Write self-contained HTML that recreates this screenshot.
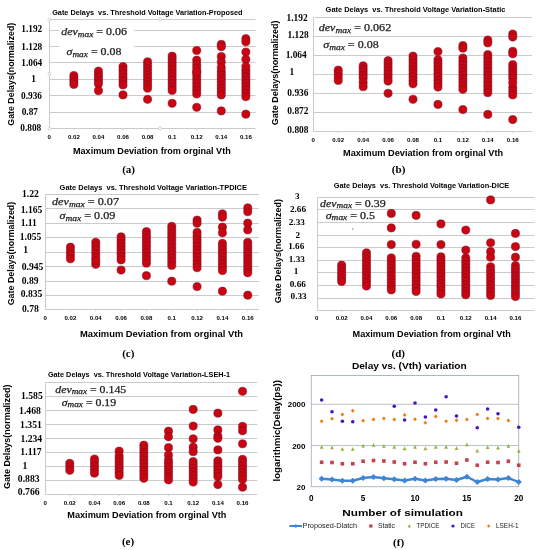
<!DOCTYPE html>
<html><head><meta charset="utf-8"><title>Gate delay variation figures</title>
<style>
html,body{margin:0;padding:0;background:#fff;}
body{width:540px;height:550px;overflow:hidden;}
svg{display:block;}
</style></head><body>
<svg width="540" height="550" viewBox="0 0 540 550">
<rect width="540" height="550" fill="#fff"/>
<line x1="49.50" y1="30.50" x2="255.60" y2="30.50" stroke="#cbcbcb" stroke-width="1"/>
<line x1="49.50" y1="46.50" x2="255.60" y2="46.50" stroke="#cbcbcb" stroke-width="1"/>
<line x1="49.50" y1="62.50" x2="255.60" y2="62.50" stroke="#cbcbcb" stroke-width="1"/>
<line x1="49.50" y1="79.50" x2="255.60" y2="79.50" stroke="#cbcbcb" stroke-width="1"/>
<line x1="49.50" y1="95.50" x2="255.60" y2="95.50" stroke="#cbcbcb" stroke-width="1"/>
<line x1="49.50" y1="112.50" x2="255.60" y2="112.50" stroke="#cbcbcb" stroke-width="1"/>
<line x1="49.50" y1="128.50" x2="255.60" y2="128.50" stroke="#cbcbcb" stroke-width="1"/>
<line x1="49.50" y1="19.50" x2="255.60" y2="19.50" stroke="#cbcbcb" stroke-width="1"/>
<line x1="49.50" y1="19.50" x2="49.50" y2="128.50" stroke="#cbcbcb" stroke-width="1"/>
<text x="31.80" y="31.57" font-family='"Liberation Serif", serif' font-size="9.3" font-weight="bold" text-anchor="middle" fill="#000">1.192</text>
<text x="31.80" y="49.77" font-family='"Liberation Serif", serif' font-size="9.3" font-weight="bold" text-anchor="middle" fill="#000">1.128</text>
<text x="31.80" y="65.87" font-family='"Liberation Serif", serif' font-size="9.3" font-weight="bold" text-anchor="middle" fill="#000">1.064</text>
<text x="33.50" y="82.27" font-family='"Liberation Serif", serif' font-size="9.3" font-weight="bold" text-anchor="middle" fill="#000">1</text>
<text x="31.50" y="98.57" font-family='"Liberation Serif", serif' font-size="9.3" font-weight="bold" text-anchor="middle" fill="#000">0.936</text>
<text x="29.80" y="114.57" font-family='"Liberation Serif", serif' font-size="9.3" font-weight="bold" text-anchor="middle" fill="#000">0.87</text>
<text x="30.80" y="131.37" font-family='"Liberation Serif", serif' font-size="9.3" font-weight="bold" text-anchor="middle" fill="#000">0.808</text>
<text x="49.30" y="138.50" font-family='"Liberation Sans", sans-serif' font-size="6.1" font-weight="bold" text-anchor="middle" fill="#000">0</text>
<text x="73.87" y="138.50" font-family='"Liberation Sans", sans-serif' font-size="6.1" font-weight="bold" text-anchor="middle" fill="#000">0.02</text>
<line x1="73.87" y1="128.50" x2="73.87" y2="130.30" stroke="#cbcbcb" stroke-width="0.8"/>
<text x="98.44" y="138.50" font-family='"Liberation Sans", sans-serif' font-size="6.1" font-weight="bold" text-anchor="middle" fill="#000">0.04</text>
<line x1="98.44" y1="128.50" x2="98.44" y2="130.30" stroke="#cbcbcb" stroke-width="0.8"/>
<text x="123.01" y="138.50" font-family='"Liberation Sans", sans-serif' font-size="6.1" font-weight="bold" text-anchor="middle" fill="#000">0.06</text>
<line x1="123.01" y1="128.50" x2="123.01" y2="130.30" stroke="#cbcbcb" stroke-width="0.8"/>
<text x="147.58" y="138.50" font-family='"Liberation Sans", sans-serif' font-size="6.1" font-weight="bold" text-anchor="middle" fill="#000">0.08</text>
<line x1="147.58" y1="128.50" x2="147.58" y2="130.30" stroke="#cbcbcb" stroke-width="0.8"/>
<text x="172.15" y="138.50" font-family='"Liberation Sans", sans-serif' font-size="6.1" font-weight="bold" text-anchor="middle" fill="#000">0.1</text>
<line x1="172.15" y1="128.50" x2="172.15" y2="130.30" stroke="#cbcbcb" stroke-width="0.8"/>
<text x="196.72" y="138.50" font-family='"Liberation Sans", sans-serif' font-size="6.1" font-weight="bold" text-anchor="middle" fill="#000">0.12</text>
<line x1="196.72" y1="128.50" x2="196.72" y2="130.30" stroke="#cbcbcb" stroke-width="0.8"/>
<text x="221.29" y="138.50" font-family='"Liberation Sans", sans-serif' font-size="6.1" font-weight="bold" text-anchor="middle" fill="#000">0.14</text>
<line x1="221.29" y1="128.50" x2="221.29" y2="130.30" stroke="#cbcbcb" stroke-width="0.8"/>
<text x="245.86" y="138.50" font-family='"Liberation Sans", sans-serif' font-size="6.1" font-weight="bold" text-anchor="middle" fill="#000">0.16</text>
<line x1="245.86" y1="128.50" x2="245.86" y2="130.30" stroke="#cbcbcb" stroke-width="0.8"/>
<circle cx="49.5" cy="19.5" r="1.5" fill="#fff" stroke="#b5b5b5" stroke-width="0.6"/>
<circle cx="49.5" cy="74" r="1.5" fill="#fff" stroke="#b5b5b5" stroke-width="0.6"/>
<circle cx="49.5" cy="128.5" r="1.5" fill="#fff" stroke="#b5b5b5" stroke-width="0.6"/>
<circle cx="160" cy="19.5" r="1.5" fill="#fff" stroke="#b5b5b5" stroke-width="0.6"/>
<circle cx="160" cy="128.5" r="1.5" fill="#fff" stroke="#b5b5b5" stroke-width="0.6"/>
<text x="52.20" y="15.20" font-family='"Liberation Sans", sans-serif' font-size="7.5" font-weight="bold" text-anchor="start" fill="#000" textLength="190.40" lengthAdjust="spacingAndGlyphs" xml:space="preserve" style="white-space:pre">Gate Delays  vs. Threshold Voltage Variation-Proposed</text>
<text x="73.00" y="154.30" font-family='"Liberation Sans", sans-serif' font-size="9.4" font-weight="bold" text-anchor="start" fill="#000" textLength="157.70" lengthAdjust="spacingAndGlyphs">Maximum Deviation from orginal Vth</text>
<text transform="translate(13.80,125.70) rotate(-90)" font-family='"Liberation Sans", sans-serif' font-size="9" font-weight="bold" textLength="103.00" lengthAdjust="spacingAndGlyphs">Gate Delays(normalized)</text>
<text x="128.60" y="173.20" font-family='"Liberation Serif", serif' font-size="11" font-weight="bold" text-anchor="middle" fill="#000">(a)</text>
<rect x="59" y="21.5" width="75" height="39.5" fill="#fff"/>
<text x="61.30" y="35.30" font-family='"Liberation Serif", serif' font-size="10.6" fill="#222" stroke="#222" stroke-width="0.25" textLength="65.70" lengthAdjust="spacingAndGlyphs"><tspan font-style="italic">dev</tspan><tspan font-style="italic" font-size="8.27" dy="1.6">max</tspan><tspan dy="-1.6"> = 0.06</tspan></text>
<text x="66.50" y="55.30" font-family='"Liberation Serif", serif' font-size="10.6" fill="#222" stroke="#222" stroke-width="0.25" textLength="55.00" lengthAdjust="spacingAndGlyphs"><tspan font-style="italic">σ</tspan><tspan font-style="italic" font-size="8.27" dy="1.6">max</tspan><tspan dy="-1.6"> = 0.08</tspan></text>
<g fill="#c9050f" stroke="#6e1030" stroke-width="0.5">
<circle cx="73.87" cy="75.50" r="4.1"/>
<circle cx="73.87" cy="78.47" r="4.1"/>
<circle cx="73.87" cy="81.43" r="4.1"/>
<circle cx="73.87" cy="84.40" r="4.1"/>
<circle cx="98.44" cy="71.10" r="4.1"/>
<circle cx="98.44" cy="74.27" r="4.1"/>
<circle cx="98.44" cy="77.45" r="4.1"/>
<circle cx="98.44" cy="80.62" r="4.1"/>
<circle cx="98.44" cy="83.80" r="4.1"/>
<circle cx="98.44" cy="90.70" r="4.1"/>
<circle cx="123.01" cy="66.70" r="4.1"/>
<circle cx="123.01" cy="70.34" r="4.1"/>
<circle cx="123.01" cy="73.98" r="4.1"/>
<circle cx="123.01" cy="77.62" r="4.1"/>
<circle cx="123.01" cy="81.26" r="4.1"/>
<circle cx="123.01" cy="84.90" r="4.1"/>
<circle cx="123.01" cy="94.90" r="4.1"/>
<circle cx="147.58" cy="61.80" r="4.1"/>
<circle cx="147.58" cy="65.10" r="4.1"/>
<circle cx="147.58" cy="68.40" r="4.1"/>
<circle cx="147.58" cy="71.70" r="4.1"/>
<circle cx="147.58" cy="75.00" r="4.1"/>
<circle cx="147.58" cy="78.30" r="4.1"/>
<circle cx="147.58" cy="81.60" r="4.1"/>
<circle cx="147.58" cy="84.90" r="4.1"/>
<circle cx="147.58" cy="88.20" r="4.1"/>
<circle cx="147.58" cy="99.30" r="4.1"/>
<circle cx="172.15" cy="56.20" r="4.1"/>
<circle cx="172.15" cy="59.62" r="4.1"/>
<circle cx="172.15" cy="63.04" r="4.1"/>
<circle cx="172.15" cy="66.46" r="4.1"/>
<circle cx="172.15" cy="69.88" r="4.1"/>
<circle cx="172.15" cy="73.30" r="4.1"/>
<circle cx="172.15" cy="76.72" r="4.1"/>
<circle cx="172.15" cy="80.14" r="4.1"/>
<circle cx="172.15" cy="83.56" r="4.1"/>
<circle cx="172.15" cy="86.98" r="4.1"/>
<circle cx="172.15" cy="90.40" r="4.1"/>
<circle cx="172.15" cy="103.30" r="4.1"/>
<circle cx="196.72" cy="50.50" r="4.1"/>
<circle cx="196.72" cy="60.20" r="4.1"/>
<circle cx="196.72" cy="64.50" r="4.1"/>
<circle cx="196.72" cy="72.00" r="4.1"/>
<circle cx="196.72" cy="75.67" r="4.1"/>
<circle cx="196.72" cy="79.33" r="4.1"/>
<circle cx="196.72" cy="83.00" r="4.1"/>
<circle cx="196.72" cy="86.67" r="4.1"/>
<circle cx="196.72" cy="90.33" r="4.1"/>
<circle cx="196.72" cy="94.00" r="4.1"/>
<circle cx="196.72" cy="68.00" r="4.1"/>
<circle cx="196.72" cy="72.00" r="4.1"/>
<circle cx="196.72" cy="107.30" r="4.1"/>
<circle cx="221.29" cy="44.40" r="4.1"/>
<circle cx="221.29" cy="46.70" r="4.1"/>
<circle cx="221.29" cy="56.50" r="4.1"/>
<circle cx="221.29" cy="62.00" r="4.1"/>
<circle cx="221.29" cy="71.60" r="4.1"/>
<circle cx="221.29" cy="74.93" r="4.1"/>
<circle cx="221.29" cy="78.26" r="4.1"/>
<circle cx="221.29" cy="81.59" r="4.1"/>
<circle cx="221.29" cy="84.91" r="4.1"/>
<circle cx="221.29" cy="88.24" r="4.1"/>
<circle cx="221.29" cy="91.57" r="4.1"/>
<circle cx="221.29" cy="94.90" r="4.1"/>
<circle cx="221.29" cy="67.50" r="4.1"/>
<circle cx="221.29" cy="110.90" r="4.1"/>
<circle cx="245.86" cy="38.70" r="4.1"/>
<circle cx="245.86" cy="41.80" r="4.1"/>
<circle cx="245.86" cy="52.10" r="4.1"/>
<circle cx="245.86" cy="59.30" r="4.1"/>
<circle cx="245.86" cy="70.20" r="4.1"/>
<circle cx="245.86" cy="73.51" r="4.1"/>
<circle cx="245.86" cy="76.83" r="4.1"/>
<circle cx="245.86" cy="80.14" r="4.1"/>
<circle cx="245.86" cy="83.45" r="4.1"/>
<circle cx="245.86" cy="86.76" r="4.1"/>
<circle cx="245.86" cy="90.08" r="4.1"/>
<circle cx="245.86" cy="93.39" r="4.1"/>
<circle cx="245.86" cy="96.70" r="4.1"/>
<circle cx="245.86" cy="66.50" r="4.1"/>
<circle cx="245.86" cy="114.20" r="4.1"/>
</g>
<line x1="313.50" y1="17.50" x2="532.00" y2="17.50" stroke="#cbcbcb" stroke-width="1"/>
<line x1="313.50" y1="36.50" x2="532.00" y2="36.50" stroke="#cbcbcb" stroke-width="1"/>
<line x1="313.50" y1="55.50" x2="532.00" y2="55.50" stroke="#cbcbcb" stroke-width="1"/>
<line x1="313.50" y1="74.50" x2="532.00" y2="74.50" stroke="#cbcbcb" stroke-width="1"/>
<line x1="313.50" y1="93.50" x2="532.00" y2="93.50" stroke="#cbcbcb" stroke-width="1"/>
<line x1="313.50" y1="112.50" x2="532.00" y2="112.50" stroke="#cbcbcb" stroke-width="1"/>
<line x1="313.50" y1="131.50" x2="532.00" y2="131.50" stroke="#cbcbcb" stroke-width="1"/>
<line x1="313.50" y1="17.50" x2="313.50" y2="131.50" stroke="#cbcbcb" stroke-width="1"/>
<text x="297.10" y="20.60" font-family='"Liberation Serif", serif' font-size="9.4" font-weight="bold" text-anchor="middle" fill="#000">1.192</text>
<text x="298.10" y="38.30" font-family='"Liberation Serif", serif' font-size="9.4" font-weight="bold" text-anchor="middle" fill="#000">1.128</text>
<text x="296.20" y="57.90" font-family='"Liberation Serif", serif' font-size="9.4" font-weight="bold" text-anchor="middle" fill="#000">1.064</text>
<text x="291.80" y="74.90" font-family='"Liberation Serif", serif' font-size="9.4" font-weight="bold" text-anchor="middle" fill="#000">1</text>
<text x="297.90" y="95.70" font-family='"Liberation Serif", serif' font-size="9.4" font-weight="bold" text-anchor="middle" fill="#000">0.936</text>
<text x="297.90" y="114.40" font-family='"Liberation Serif", serif' font-size="9.4" font-weight="bold" text-anchor="middle" fill="#000">0.872</text>
<text x="297.90" y="132.80" font-family='"Liberation Serif", serif' font-size="9.4" font-weight="bold" text-anchor="middle" fill="#000">0.808</text>
<text x="313.30" y="141.50" font-family='"Liberation Sans", sans-serif' font-size="6.1" font-weight="bold" text-anchor="middle" fill="#000">0</text>
<text x="338.23" y="141.50" font-family='"Liberation Sans", sans-serif' font-size="6.1" font-weight="bold" text-anchor="middle" fill="#000">0.02</text>
<line x1="338.23" y1="131.50" x2="338.23" y2="133.30" stroke="#cbcbcb" stroke-width="0.8"/>
<text x="363.16" y="141.50" font-family='"Liberation Sans", sans-serif' font-size="6.1" font-weight="bold" text-anchor="middle" fill="#000">0.04</text>
<line x1="363.16" y1="131.50" x2="363.16" y2="133.30" stroke="#cbcbcb" stroke-width="0.8"/>
<text x="388.09" y="141.50" font-family='"Liberation Sans", sans-serif' font-size="6.1" font-weight="bold" text-anchor="middle" fill="#000">0.06</text>
<line x1="388.09" y1="131.50" x2="388.09" y2="133.30" stroke="#cbcbcb" stroke-width="0.8"/>
<text x="413.02" y="141.50" font-family='"Liberation Sans", sans-serif' font-size="6.1" font-weight="bold" text-anchor="middle" fill="#000">0.08</text>
<line x1="413.02" y1="131.50" x2="413.02" y2="133.30" stroke="#cbcbcb" stroke-width="0.8"/>
<text x="437.95" y="141.50" font-family='"Liberation Sans", sans-serif' font-size="6.1" font-weight="bold" text-anchor="middle" fill="#000">0.1</text>
<line x1="437.95" y1="131.50" x2="437.95" y2="133.30" stroke="#cbcbcb" stroke-width="0.8"/>
<text x="462.88" y="141.50" font-family='"Liberation Sans", sans-serif' font-size="6.1" font-weight="bold" text-anchor="middle" fill="#000">0.12</text>
<line x1="462.88" y1="131.50" x2="462.88" y2="133.30" stroke="#cbcbcb" stroke-width="0.8"/>
<text x="487.81" y="141.50" font-family='"Liberation Sans", sans-serif' font-size="6.1" font-weight="bold" text-anchor="middle" fill="#000">0.14</text>
<line x1="487.81" y1="131.50" x2="487.81" y2="133.30" stroke="#cbcbcb" stroke-width="0.8"/>
<text x="512.74" y="141.50" font-family='"Liberation Sans", sans-serif' font-size="6.1" font-weight="bold" text-anchor="middle" fill="#000">0.16</text>
<line x1="512.74" y1="131.50" x2="512.74" y2="133.30" stroke="#cbcbcb" stroke-width="0.8"/>
<text x="325.60" y="12.00" font-family='"Liberation Sans", sans-serif' font-size="7.5" font-weight="bold" text-anchor="start" fill="#000" textLength="179.80" lengthAdjust="spacingAndGlyphs" xml:space="preserve" style="white-space:pre">Gate Delays  vs. Threshold Voltage Variation-Static</text>
<text x="343.00" y="156.00" font-family='"Liberation Sans", sans-serif' font-size="9.4" font-weight="bold" text-anchor="start" fill="#000" textLength="160.10" lengthAdjust="spacingAndGlyphs">Maximum Deviation from orginal Vth</text>
<text transform="translate(277.60,125.30) rotate(-90)" font-family='"Liberation Sans", sans-serif' font-size="9" font-weight="bold" textLength="104.90" lengthAdjust="spacingAndGlyphs">Gate Delays(normalized)</text>
<text x="398.60" y="172.60" font-family='"Liberation Serif", serif' font-size="11" font-weight="bold" text-anchor="middle" fill="#000">(b)</text>
<text x="318.70" y="31.20" font-family='"Liberation Serif", serif' font-size="10.6" fill="#222" stroke="#222" stroke-width="0.25" textLength="72.50" lengthAdjust="spacingAndGlyphs"><tspan font-style="italic">dev</tspan><tspan font-style="italic" font-size="8.27" dy="1.6">max</tspan><tspan dy="-1.6"> = 0.062</tspan></text>
<text x="323.30" y="48.30" font-family='"Liberation Serif", serif' font-size="10.6" fill="#222" stroke="#222" stroke-width="0.25" textLength="55.40" lengthAdjust="spacingAndGlyphs"><tspan font-style="italic">σ</tspan><tspan font-style="italic" font-size="8.27" dy="1.6">max</tspan><tspan dy="-1.6"> = 0.08</tspan></text>
<g fill="#c9050f" stroke="#6e1030" stroke-width="0.5">
<circle cx="338.23" cy="70.20" r="4.1"/>
<circle cx="338.23" cy="73.60" r="4.1"/>
<circle cx="338.23" cy="77.00" r="4.1"/>
<circle cx="338.23" cy="80.40" r="4.1"/>
<circle cx="363.16" cy="65.80" r="4.1"/>
<circle cx="363.16" cy="68.90" r="4.1"/>
<circle cx="363.16" cy="72.00" r="4.1"/>
<circle cx="363.16" cy="75.10" r="4.1"/>
<circle cx="363.16" cy="78.20" r="4.1"/>
<circle cx="363.16" cy="82.50" r="4.1"/>
<circle cx="363.16" cy="86.70" r="4.1"/>
<circle cx="388.09" cy="60.70" r="4.1"/>
<circle cx="388.09" cy="64.10" r="4.1"/>
<circle cx="388.09" cy="67.50" r="4.1"/>
<circle cx="388.09" cy="70.90" r="4.1"/>
<circle cx="388.09" cy="74.30" r="4.1"/>
<circle cx="388.09" cy="77.70" r="4.1"/>
<circle cx="388.09" cy="81.10" r="4.1"/>
<circle cx="388.09" cy="93.30" r="4.1"/>
<circle cx="413.02" cy="56.20" r="4.1"/>
<circle cx="413.02" cy="59.65" r="4.1"/>
<circle cx="413.02" cy="63.10" r="4.1"/>
<circle cx="413.02" cy="66.55" r="4.1"/>
<circle cx="413.02" cy="70.00" r="4.1"/>
<circle cx="413.02" cy="73.45" r="4.1"/>
<circle cx="413.02" cy="76.90" r="4.1"/>
<circle cx="413.02" cy="80.35" r="4.1"/>
<circle cx="413.02" cy="83.80" r="4.1"/>
<circle cx="413.02" cy="99.30" r="4.1"/>
<circle cx="437.95" cy="51.60" r="4.1"/>
<circle cx="437.95" cy="59.90" r="4.1"/>
<circle cx="437.95" cy="63.30" r="4.1"/>
<circle cx="437.95" cy="66.70" r="4.1"/>
<circle cx="437.95" cy="70.10" r="4.1"/>
<circle cx="437.95" cy="73.50" r="4.1"/>
<circle cx="437.95" cy="76.90" r="4.1"/>
<circle cx="437.95" cy="80.30" r="4.1"/>
<circle cx="437.95" cy="83.70" r="4.1"/>
<circle cx="437.95" cy="87.10" r="4.1"/>
<circle cx="437.95" cy="104.40" r="4.1"/>
<circle cx="462.88" cy="45.60" r="4.1"/>
<circle cx="462.88" cy="48.20" r="4.1"/>
<circle cx="462.88" cy="58.00" r="4.1"/>
<circle cx="462.88" cy="61.48" r="4.1"/>
<circle cx="462.88" cy="64.96" r="4.1"/>
<circle cx="462.88" cy="68.43" r="4.1"/>
<circle cx="462.88" cy="71.91" r="4.1"/>
<circle cx="462.88" cy="75.39" r="4.1"/>
<circle cx="462.88" cy="78.87" r="4.1"/>
<circle cx="462.88" cy="82.34" r="4.1"/>
<circle cx="462.88" cy="85.82" r="4.1"/>
<circle cx="462.88" cy="89.30" r="4.1"/>
<circle cx="462.88" cy="109.60" r="4.1"/>
<circle cx="487.81" cy="40.00" r="4.1"/>
<circle cx="487.81" cy="42.90" r="4.1"/>
<circle cx="487.81" cy="54.70" r="4.1"/>
<circle cx="487.81" cy="58.15" r="4.1"/>
<circle cx="487.81" cy="61.61" r="4.1"/>
<circle cx="487.81" cy="65.06" r="4.1"/>
<circle cx="487.81" cy="68.52" r="4.1"/>
<circle cx="487.81" cy="71.97" r="4.1"/>
<circle cx="487.81" cy="75.43" r="4.1"/>
<circle cx="487.81" cy="78.88" r="4.1"/>
<circle cx="487.81" cy="82.34" r="4.1"/>
<circle cx="487.81" cy="85.79" r="4.1"/>
<circle cx="487.81" cy="89.25" r="4.1"/>
<circle cx="487.81" cy="92.70" r="4.1"/>
<circle cx="487.81" cy="114.40" r="4.1"/>
<circle cx="512.74" cy="34.00" r="4.1"/>
<circle cx="512.74" cy="37.10" r="4.1"/>
<circle cx="512.74" cy="51.30" r="4.1"/>
<circle cx="512.74" cy="53.80" r="4.1"/>
<circle cx="512.74" cy="64.70" r="4.1"/>
<circle cx="512.74" cy="68.08" r="4.1"/>
<circle cx="512.74" cy="71.45" r="4.1"/>
<circle cx="512.74" cy="74.83" r="4.1"/>
<circle cx="512.74" cy="78.20" r="4.1"/>
<circle cx="512.74" cy="87.30" r="4.1"/>
<circle cx="512.74" cy="91.10" r="4.1"/>
<circle cx="512.74" cy="94.90" r="4.1"/>
<circle cx="512.74" cy="82.50" r="4.1"/>
<circle cx="512.74" cy="119.60" r="4.1"/>
</g>
<line x1="45.50" y1="194.50" x2="259.00" y2="194.50" stroke="#cbcbcb" stroke-width="1"/>
<line x1="45.50" y1="208.50" x2="259.00" y2="208.50" stroke="#cbcbcb" stroke-width="1"/>
<line x1="45.50" y1="223.50" x2="259.00" y2="223.50" stroke="#cbcbcb" stroke-width="1"/>
<line x1="45.50" y1="237.50" x2="259.00" y2="237.50" stroke="#cbcbcb" stroke-width="1"/>
<line x1="45.50" y1="252.50" x2="259.00" y2="252.50" stroke="#cbcbcb" stroke-width="1"/>
<line x1="45.50" y1="266.50" x2="259.00" y2="266.50" stroke="#cbcbcb" stroke-width="1"/>
<line x1="45.50" y1="281.50" x2="259.00" y2="281.50" stroke="#cbcbcb" stroke-width="1"/>
<line x1="45.50" y1="295.50" x2="259.00" y2="295.50" stroke="#cbcbcb" stroke-width="1"/>
<line x1="45.50" y1="309.50" x2="259.00" y2="309.50" stroke="#cbcbcb" stroke-width="1"/>
<line x1="45.50" y1="194.50" x2="45.50" y2="309.50" stroke="#cbcbcb" stroke-width="1"/>
<text x="30.40" y="196.97" font-family='"Liberation Serif", serif' font-size="9.6" font-weight="bold" text-anchor="middle" fill="#000">1.22</text>
<text x="31.50" y="213.27" font-family='"Liberation Serif", serif' font-size="9.6" font-weight="bold" text-anchor="middle" fill="#000">1.165</text>
<text x="28.80" y="226.27" font-family='"Liberation Serif", serif' font-size="9.6" font-weight="bold" text-anchor="middle" fill="#000">1.11</text>
<text x="30.60" y="239.97" font-family='"Liberation Serif", serif' font-size="9.6" font-weight="bold" text-anchor="middle" fill="#000">1.055</text>
<text x="25.60" y="253.47" font-family='"Liberation Serif", serif' font-size="9.6" font-weight="bold" text-anchor="middle" fill="#000">1</text>
<text x="32.50" y="270.27" font-family='"Liberation Serif", serif' font-size="9.6" font-weight="bold" text-anchor="middle" fill="#000">0.945</text>
<text x="30.10" y="283.77" font-family='"Liberation Serif", serif' font-size="9.6" font-weight="bold" text-anchor="middle" fill="#000">0.89</text>
<text x="31.50" y="297.47" font-family='"Liberation Serif", serif' font-size="9.6" font-weight="bold" text-anchor="middle" fill="#000">0.835</text>
<text x="30.40" y="311.67" font-family='"Liberation Serif", serif' font-size="9.6" font-weight="bold" text-anchor="middle" fill="#000">0.78</text>
<text x="45.10" y="320.00" font-family='"Liberation Sans", sans-serif' font-size="6.1" font-weight="bold" text-anchor="middle" fill="#000">0</text>
<text x="70.43" y="320.00" font-family='"Liberation Sans", sans-serif' font-size="6.1" font-weight="bold" text-anchor="middle" fill="#000">0.02</text>
<line x1="70.43" y1="309.50" x2="70.43" y2="311.30" stroke="#cbcbcb" stroke-width="0.8"/>
<text x="95.76" y="320.00" font-family='"Liberation Sans", sans-serif' font-size="6.1" font-weight="bold" text-anchor="middle" fill="#000">0.04</text>
<line x1="95.76" y1="309.50" x2="95.76" y2="311.30" stroke="#cbcbcb" stroke-width="0.8"/>
<text x="121.09" y="320.00" font-family='"Liberation Sans", sans-serif' font-size="6.1" font-weight="bold" text-anchor="middle" fill="#000">0.06</text>
<line x1="121.09" y1="309.50" x2="121.09" y2="311.30" stroke="#cbcbcb" stroke-width="0.8"/>
<text x="146.42" y="320.00" font-family='"Liberation Sans", sans-serif' font-size="6.1" font-weight="bold" text-anchor="middle" fill="#000">0.08</text>
<line x1="146.42" y1="309.50" x2="146.42" y2="311.30" stroke="#cbcbcb" stroke-width="0.8"/>
<text x="171.75" y="320.00" font-family='"Liberation Sans", sans-serif' font-size="6.1" font-weight="bold" text-anchor="middle" fill="#000">0.1</text>
<line x1="171.75" y1="309.50" x2="171.75" y2="311.30" stroke="#cbcbcb" stroke-width="0.8"/>
<text x="197.08" y="320.00" font-family='"Liberation Sans", sans-serif' font-size="6.1" font-weight="bold" text-anchor="middle" fill="#000">0.12</text>
<line x1="197.08" y1="309.50" x2="197.08" y2="311.30" stroke="#cbcbcb" stroke-width="0.8"/>
<text x="222.41" y="320.00" font-family='"Liberation Sans", sans-serif' font-size="6.1" font-weight="bold" text-anchor="middle" fill="#000">0.14</text>
<line x1="222.41" y1="309.50" x2="222.41" y2="311.30" stroke="#cbcbcb" stroke-width="0.8"/>
<text x="247.74" y="320.00" font-family='"Liberation Sans", sans-serif' font-size="6.1" font-weight="bold" text-anchor="middle" fill="#000">0.16</text>
<line x1="247.74" y1="309.50" x2="247.74" y2="311.30" stroke="#cbcbcb" stroke-width="0.8"/>
<text x="59.60" y="190.00" font-family='"Liberation Sans", sans-serif' font-size="7.5" font-weight="bold" text-anchor="start" fill="#000" textLength="187.40" lengthAdjust="spacingAndGlyphs" xml:space="preserve" style="white-space:pre">Gate Delays  vs. Threshold Voltage Variation-TPDICE</text>
<text x="80.00" y="336.80" font-family='"Liberation Sans", sans-serif' font-size="9.4" font-weight="bold" text-anchor="start" fill="#000" textLength="163.00" lengthAdjust="spacingAndGlyphs">Maximum Deviation from orginal Vth</text>
<text transform="translate(13.80,305.30) rotate(-90)" font-family='"Liberation Sans", sans-serif' font-size="9" font-weight="bold" textLength="103.50" lengthAdjust="spacingAndGlyphs">Gate Delays(normalized)</text>
<text x="128.30" y="356.60" font-family='"Liberation Serif", serif' font-size="11" font-weight="bold" text-anchor="middle" fill="#000">(c)</text>
<text x="52.00" y="205.00" font-family='"Liberation Serif", serif' font-size="10.6" fill="#222" stroke="#222" stroke-width="0.25" textLength="67.00" lengthAdjust="spacingAndGlyphs"><tspan font-style="italic">dev</tspan><tspan font-style="italic" font-size="8.27" dy="1.6">max</tspan><tspan dy="-1.6"> = 0.07</tspan></text>
<text x="59.50" y="219.20" font-family='"Liberation Serif", serif' font-size="10.6" fill="#222" stroke="#222" stroke-width="0.25" textLength="55.80" lengthAdjust="spacingAndGlyphs"><tspan font-style="italic">σ</tspan><tspan font-style="italic" font-size="8.27" dy="1.6">max</tspan><tspan dy="-1.6"> = 0.09</tspan></text>
<g fill="#c9050f" stroke="#6e1030" stroke-width="0.5">
<circle cx="70.43" cy="247.20" r="4.1"/>
<circle cx="70.43" cy="251.07" r="4.1"/>
<circle cx="70.43" cy="254.93" r="4.1"/>
<circle cx="70.43" cy="258.80" r="4.1"/>
<circle cx="95.76" cy="242.30" r="4.1"/>
<circle cx="95.76" cy="246.15" r="4.1"/>
<circle cx="95.76" cy="250.00" r="4.1"/>
<circle cx="95.76" cy="253.85" r="4.1"/>
<circle cx="95.76" cy="257.70" r="4.1"/>
<circle cx="95.76" cy="264.30" r="4.1"/>
<circle cx="95.76" cy="261.00" r="4.1"/>
<circle cx="121.09" cy="236.80" r="4.1"/>
<circle cx="121.09" cy="240.10" r="4.1"/>
<circle cx="121.09" cy="243.40" r="4.1"/>
<circle cx="121.09" cy="246.70" r="4.1"/>
<circle cx="121.09" cy="250.00" r="4.1"/>
<circle cx="121.09" cy="253.30" r="4.1"/>
<circle cx="121.09" cy="256.60" r="4.1"/>
<circle cx="121.09" cy="259.90" r="4.1"/>
<circle cx="121.09" cy="270.10" r="4.1"/>
<circle cx="146.42" cy="231.70" r="4.1"/>
<circle cx="146.42" cy="235.20" r="4.1"/>
<circle cx="146.42" cy="238.70" r="4.1"/>
<circle cx="146.42" cy="242.20" r="4.1"/>
<circle cx="146.42" cy="245.70" r="4.1"/>
<circle cx="146.42" cy="249.20" r="4.1"/>
<circle cx="146.42" cy="252.70" r="4.1"/>
<circle cx="146.42" cy="256.20" r="4.1"/>
<circle cx="146.42" cy="259.70" r="4.1"/>
<circle cx="146.42" cy="263.20" r="4.1"/>
<circle cx="146.42" cy="275.70" r="4.1"/>
<circle cx="171.75" cy="226.30" r="4.1"/>
<circle cx="171.75" cy="229.85" r="4.1"/>
<circle cx="171.75" cy="233.41" r="4.1"/>
<circle cx="171.75" cy="236.96" r="4.1"/>
<circle cx="171.75" cy="240.52" r="4.1"/>
<circle cx="171.75" cy="244.07" r="4.1"/>
<circle cx="171.75" cy="247.63" r="4.1"/>
<circle cx="171.75" cy="251.18" r="4.1"/>
<circle cx="171.75" cy="254.74" r="4.1"/>
<circle cx="171.75" cy="258.29" r="4.1"/>
<circle cx="171.75" cy="261.85" r="4.1"/>
<circle cx="171.75" cy="265.40" r="4.1"/>
<circle cx="171.75" cy="281.20" r="4.1"/>
<circle cx="197.08" cy="220.10" r="4.1"/>
<circle cx="197.08" cy="223.20" r="4.1"/>
<circle cx="197.08" cy="232.30" r="4.1"/>
<circle cx="197.08" cy="235.84" r="4.1"/>
<circle cx="197.08" cy="239.38" r="4.1"/>
<circle cx="197.08" cy="242.92" r="4.1"/>
<circle cx="197.08" cy="246.46" r="4.1"/>
<circle cx="197.08" cy="250.00" r="4.1"/>
<circle cx="197.08" cy="253.54" r="4.1"/>
<circle cx="197.08" cy="257.08" r="4.1"/>
<circle cx="197.08" cy="260.62" r="4.1"/>
<circle cx="197.08" cy="264.16" r="4.1"/>
<circle cx="197.08" cy="267.70" r="4.1"/>
<circle cx="197.08" cy="286.60" r="4.1"/>
<circle cx="222.41" cy="213.90" r="4.1"/>
<circle cx="222.41" cy="217.20" r="4.1"/>
<circle cx="222.41" cy="227.20" r="4.1"/>
<circle cx="222.41" cy="232.80" r="4.1"/>
<circle cx="222.41" cy="243.40" r="4.1"/>
<circle cx="222.41" cy="246.80" r="4.1"/>
<circle cx="222.41" cy="250.20" r="4.1"/>
<circle cx="222.41" cy="253.60" r="4.1"/>
<circle cx="222.41" cy="257.00" r="4.1"/>
<circle cx="222.41" cy="260.40" r="4.1"/>
<circle cx="222.41" cy="263.80" r="4.1"/>
<circle cx="222.41" cy="267.20" r="4.1"/>
<circle cx="222.41" cy="270.60" r="4.1"/>
<circle cx="222.41" cy="291.20" r="4.1"/>
<circle cx="247.74" cy="207.90" r="4.1"/>
<circle cx="247.74" cy="211.70" r="4.1"/>
<circle cx="247.74" cy="223.20" r="4.1"/>
<circle cx="247.74" cy="229.90" r="4.1"/>
<circle cx="247.74" cy="242.30" r="4.1"/>
<circle cx="247.74" cy="245.69" r="4.1"/>
<circle cx="247.74" cy="249.08" r="4.1"/>
<circle cx="247.74" cy="252.47" r="4.1"/>
<circle cx="247.74" cy="255.86" r="4.1"/>
<circle cx="247.74" cy="259.24" r="4.1"/>
<circle cx="247.74" cy="262.63" r="4.1"/>
<circle cx="247.74" cy="266.02" r="4.1"/>
<circle cx="247.74" cy="269.41" r="4.1"/>
<circle cx="247.74" cy="272.80" r="4.1"/>
<circle cx="247.74" cy="295.20" r="4.1"/>
</g>
<line x1="317.50" y1="197.50" x2="534.40" y2="197.50" stroke="#cbcbcb" stroke-width="1"/>
<line x1="317.50" y1="209.50" x2="534.40" y2="209.50" stroke="#cbcbcb" stroke-width="1"/>
<line x1="317.50" y1="222.50" x2="534.40" y2="222.50" stroke="#cbcbcb" stroke-width="1"/>
<line x1="317.50" y1="235.50" x2="534.40" y2="235.50" stroke="#cbcbcb" stroke-width="1"/>
<line x1="317.50" y1="247.50" x2="534.40" y2="247.50" stroke="#cbcbcb" stroke-width="1"/>
<line x1="317.50" y1="260.50" x2="534.40" y2="260.50" stroke="#cbcbcb" stroke-width="1"/>
<line x1="317.50" y1="272.50" x2="534.40" y2="272.50" stroke="#cbcbcb" stroke-width="1"/>
<line x1="317.50" y1="285.50" x2="534.40" y2="285.50" stroke="#cbcbcb" stroke-width="1"/>
<line x1="317.50" y1="298.50" x2="534.40" y2="298.50" stroke="#cbcbcb" stroke-width="1"/>
<line x1="317.50" y1="310.50" x2="534.40" y2="310.50" stroke="#cbcbcb" stroke-width="1"/>
<line x1="317.50" y1="197.50" x2="317.50" y2="310.50" stroke="#cbcbcb" stroke-width="1"/>
<text x="297.20" y="198.54" font-family='"Liberation Serif", serif' font-size="9.2" font-weight="bold" text-anchor="middle" fill="#000">3</text>
<text x="298.00" y="211.94" font-family='"Liberation Serif", serif' font-size="9.2" font-weight="bold" text-anchor="middle" fill="#000">2.66</text>
<text x="296.80" y="225.24" font-family='"Liberation Serif", serif' font-size="9.2" font-weight="bold" text-anchor="middle" fill="#000">2.33</text>
<text x="297.70" y="237.54" font-family='"Liberation Serif", serif' font-size="9.2" font-weight="bold" text-anchor="middle" fill="#000">2</text>
<text x="296.20" y="248.84" font-family='"Liberation Serif", serif' font-size="9.2" font-weight="bold" text-anchor="middle" fill="#000">1.66</text>
<text x="296.80" y="261.64" font-family='"Liberation Serif", serif' font-size="9.2" font-weight="bold" text-anchor="middle" fill="#000">1.33</text>
<text x="296.00" y="274.14" font-family='"Liberation Serif", serif' font-size="9.2" font-weight="bold" text-anchor="middle" fill="#000">1</text>
<text x="297.80" y="286.64" font-family='"Liberation Serif", serif' font-size="9.2" font-weight="bold" text-anchor="middle" fill="#000">0.66</text>
<text x="298.60" y="298.94" font-family='"Liberation Serif", serif' font-size="9.2" font-weight="bold" text-anchor="middle" fill="#000">0.33</text>
<text x="316.80" y="319.50" font-family='"Liberation Sans", sans-serif' font-size="6.1" font-weight="bold" text-anchor="middle" fill="#000">0</text>
<text x="341.63" y="319.50" font-family='"Liberation Sans", sans-serif' font-size="6.1" font-weight="bold" text-anchor="middle" fill="#000">0.02</text>
<line x1="341.63" y1="310.50" x2="341.63" y2="312.30" stroke="#cbcbcb" stroke-width="0.8"/>
<text x="366.46" y="319.50" font-family='"Liberation Sans", sans-serif' font-size="6.1" font-weight="bold" text-anchor="middle" fill="#000">0.04</text>
<line x1="366.46" y1="310.50" x2="366.46" y2="312.30" stroke="#cbcbcb" stroke-width="0.8"/>
<text x="391.29" y="319.50" font-family='"Liberation Sans", sans-serif' font-size="6.1" font-weight="bold" text-anchor="middle" fill="#000">0.06</text>
<line x1="391.29" y1="310.50" x2="391.29" y2="312.30" stroke="#cbcbcb" stroke-width="0.8"/>
<text x="416.12" y="319.50" font-family='"Liberation Sans", sans-serif' font-size="6.1" font-weight="bold" text-anchor="middle" fill="#000">0.08</text>
<line x1="416.12" y1="310.50" x2="416.12" y2="312.30" stroke="#cbcbcb" stroke-width="0.8"/>
<text x="440.95" y="319.50" font-family='"Liberation Sans", sans-serif' font-size="6.1" font-weight="bold" text-anchor="middle" fill="#000">0.1</text>
<line x1="440.95" y1="310.50" x2="440.95" y2="312.30" stroke="#cbcbcb" stroke-width="0.8"/>
<text x="465.78" y="319.50" font-family='"Liberation Sans", sans-serif' font-size="6.1" font-weight="bold" text-anchor="middle" fill="#000">0.12</text>
<line x1="465.78" y1="310.50" x2="465.78" y2="312.30" stroke="#cbcbcb" stroke-width="0.8"/>
<text x="490.61" y="319.50" font-family='"Liberation Sans", sans-serif' font-size="6.1" font-weight="bold" text-anchor="middle" fill="#000">0.14</text>
<line x1="490.61" y1="310.50" x2="490.61" y2="312.30" stroke="#cbcbcb" stroke-width="0.8"/>
<text x="515.44" y="319.50" font-family='"Liberation Sans", sans-serif' font-size="6.1" font-weight="bold" text-anchor="middle" fill="#000">0.16</text>
<line x1="515.44" y1="310.50" x2="515.44" y2="312.30" stroke="#cbcbcb" stroke-width="0.8"/>
<text x="333.80" y="188.00" font-family='"Liberation Sans", sans-serif' font-size="7.5" font-weight="bold" text-anchor="start" fill="#000" textLength="175.40" lengthAdjust="spacingAndGlyphs" xml:space="preserve" style="white-space:pre">Gate Delays  vs. Threshold Voltage Variation-DICE</text>
<text x="352.60" y="336.80" font-family='"Liberation Sans", sans-serif' font-size="9.4" font-weight="bold" text-anchor="start" fill="#000" textLength="158.30" lengthAdjust="spacingAndGlyphs">Maximum Deviation from orginal Vth</text>
<text transform="translate(281.00,303.20) rotate(-90)" font-family='"Liberation Sans", sans-serif' font-size="9" font-weight="bold" textLength="104.10" lengthAdjust="spacingAndGlyphs">Gate Delays(normalized)</text>
<text x="398.30" y="356.80" font-family='"Liberation Serif", serif' font-size="11" font-weight="bold" text-anchor="middle" fill="#000">(d)</text>
<text x="320.00" y="206.70" font-family='"Liberation Serif", serif' font-size="10.6" fill="#222" stroke="#222" stroke-width="0.25" textLength="65.70" lengthAdjust="spacingAndGlyphs"><tspan font-style="italic">dev</tspan><tspan font-style="italic" font-size="8.27" dy="1.6">max</tspan><tspan dy="-1.6"> = 0.39</tspan></text>
<text x="325.70" y="218.70" font-family='"Liberation Serif", serif' font-size="10.6" fill="#222" stroke="#222" stroke-width="0.25" textLength="49.30" lengthAdjust="spacingAndGlyphs"><tspan font-style="italic">σ</tspan><tspan font-style="italic" font-size="8.27" dy="1.6">max</tspan><tspan dy="-1.6"> = 0.5</tspan></text>
<g fill="#c9050f" stroke="#6e1030" stroke-width="0.5">
<circle cx="341.63" cy="265.20" r="4.1"/>
<circle cx="341.63" cy="268.44" r="4.1"/>
<circle cx="341.63" cy="271.68" r="4.1"/>
<circle cx="341.63" cy="274.92" r="4.1"/>
<circle cx="341.63" cy="278.16" r="4.1"/>
<circle cx="341.63" cy="281.40" r="4.1"/>
<circle cx="366.46" cy="252.80" r="4.1"/>
<circle cx="366.46" cy="256.13" r="4.1"/>
<circle cx="366.46" cy="259.46" r="4.1"/>
<circle cx="366.46" cy="262.79" r="4.1"/>
<circle cx="366.46" cy="266.12" r="4.1"/>
<circle cx="366.46" cy="269.45" r="4.1"/>
<circle cx="366.46" cy="272.78" r="4.1"/>
<circle cx="366.46" cy="276.11" r="4.1"/>
<circle cx="366.46" cy="279.44" r="4.1"/>
<circle cx="366.46" cy="282.77" r="4.1"/>
<circle cx="366.46" cy="286.10" r="4.1"/>
<circle cx="391.29" cy="213.40" r="4.1"/>
<circle cx="391.29" cy="227.90" r="4.1"/>
<circle cx="391.29" cy="244.60" r="4.1"/>
<circle cx="391.29" cy="257.90" r="4.1"/>
<circle cx="391.29" cy="261.46" r="4.1"/>
<circle cx="391.29" cy="265.01" r="4.1"/>
<circle cx="391.29" cy="268.57" r="4.1"/>
<circle cx="391.29" cy="272.12" r="4.1"/>
<circle cx="391.29" cy="275.68" r="4.1"/>
<circle cx="391.29" cy="279.23" r="4.1"/>
<circle cx="391.29" cy="282.79" r="4.1"/>
<circle cx="391.29" cy="286.34" r="4.1"/>
<circle cx="391.29" cy="289.90" r="4.1"/>
<circle cx="416.12" cy="215.40" r="4.1"/>
<circle cx="416.12" cy="244.30" r="4.1"/>
<circle cx="416.12" cy="256.30" r="4.1"/>
<circle cx="416.12" cy="259.81" r="4.1"/>
<circle cx="416.12" cy="263.32" r="4.1"/>
<circle cx="416.12" cy="266.83" r="4.1"/>
<circle cx="416.12" cy="270.34" r="4.1"/>
<circle cx="416.12" cy="273.85" r="4.1"/>
<circle cx="416.12" cy="277.36" r="4.1"/>
<circle cx="416.12" cy="280.87" r="4.1"/>
<circle cx="416.12" cy="284.38" r="4.1"/>
<circle cx="416.12" cy="287.89" r="4.1"/>
<circle cx="416.12" cy="291.40" r="4.1"/>
<circle cx="440.95" cy="223.90" r="4.1"/>
<circle cx="440.95" cy="244.60" r="4.1"/>
<circle cx="440.95" cy="256.80" r="4.1"/>
<circle cx="440.95" cy="260.17" r="4.1"/>
<circle cx="440.95" cy="263.55" r="4.1"/>
<circle cx="440.95" cy="266.92" r="4.1"/>
<circle cx="440.95" cy="270.29" r="4.1"/>
<circle cx="440.95" cy="273.66" r="4.1"/>
<circle cx="440.95" cy="277.04" r="4.1"/>
<circle cx="440.95" cy="280.41" r="4.1"/>
<circle cx="440.95" cy="283.78" r="4.1"/>
<circle cx="440.95" cy="287.15" r="4.1"/>
<circle cx="440.95" cy="290.53" r="4.1"/>
<circle cx="440.95" cy="293.90" r="4.1"/>
<circle cx="465.78" cy="230.10" r="4.1"/>
<circle cx="465.78" cy="250.10" r="4.1"/>
<circle cx="465.78" cy="257.90" r="4.1"/>
<circle cx="465.78" cy="261.25" r="4.1"/>
<circle cx="465.78" cy="264.61" r="4.1"/>
<circle cx="465.78" cy="267.96" r="4.1"/>
<circle cx="465.78" cy="271.32" r="4.1"/>
<circle cx="465.78" cy="274.67" r="4.1"/>
<circle cx="465.78" cy="278.03" r="4.1"/>
<circle cx="465.78" cy="281.38" r="4.1"/>
<circle cx="465.78" cy="284.74" r="4.1"/>
<circle cx="465.78" cy="288.09" r="4.1"/>
<circle cx="465.78" cy="291.45" r="4.1"/>
<circle cx="465.78" cy="294.80" r="4.1"/>
<circle cx="490.61" cy="199.90" r="4.1"/>
<circle cx="490.61" cy="242.80" r="4.1"/>
<circle cx="490.61" cy="251.70" r="4.1"/>
<circle cx="490.61" cy="257.20" r="4.1"/>
<circle cx="490.61" cy="266.80" r="4.1"/>
<circle cx="490.61" cy="270.38" r="4.1"/>
<circle cx="490.61" cy="273.95" r="4.1"/>
<circle cx="490.61" cy="277.52" r="4.1"/>
<circle cx="490.61" cy="281.10" r="4.1"/>
<circle cx="490.61" cy="284.68" r="4.1"/>
<circle cx="490.61" cy="288.25" r="4.1"/>
<circle cx="490.61" cy="291.82" r="4.1"/>
<circle cx="490.61" cy="295.40" r="4.1"/>
<circle cx="515.44" cy="233.40" r="4.1"/>
<circle cx="515.44" cy="246.60" r="4.1"/>
<circle cx="515.44" cy="257.20" r="4.1"/>
<circle cx="515.44" cy="265.70" r="4.1"/>
<circle cx="515.44" cy="269.13" r="4.1"/>
<circle cx="515.44" cy="272.57" r="4.1"/>
<circle cx="515.44" cy="276.00" r="4.1"/>
<circle cx="515.44" cy="279.43" r="4.1"/>
<circle cx="515.44" cy="282.87" r="4.1"/>
<circle cx="515.44" cy="286.30" r="4.1"/>
<circle cx="515.44" cy="289.73" r="4.1"/>
<circle cx="515.44" cy="293.17" r="4.1"/>
<circle cx="515.44" cy="296.60" r="4.1"/>
</g>
<circle cx="352.7" cy="229" r="0.6" fill="#222"/>
<line x1="45.50" y1="382.50" x2="257.30" y2="382.50" stroke="#cbcbcb" stroke-width="1"/>
<line x1="45.50" y1="396.50" x2="257.30" y2="396.50" stroke="#cbcbcb" stroke-width="1"/>
<line x1="45.50" y1="410.50" x2="257.30" y2="410.50" stroke="#cbcbcb" stroke-width="1"/>
<line x1="45.50" y1="424.50" x2="257.30" y2="424.50" stroke="#cbcbcb" stroke-width="1"/>
<line x1="45.50" y1="438.50" x2="257.30" y2="438.50" stroke="#cbcbcb" stroke-width="1"/>
<line x1="45.50" y1="452.50" x2="257.30" y2="452.50" stroke="#cbcbcb" stroke-width="1"/>
<line x1="45.50" y1="466.50" x2="257.30" y2="466.50" stroke="#cbcbcb" stroke-width="1"/>
<line x1="45.50" y1="480.50" x2="257.30" y2="480.50" stroke="#cbcbcb" stroke-width="1"/>
<line x1="45.50" y1="494.50" x2="257.30" y2="494.50" stroke="#cbcbcb" stroke-width="1"/>
<line x1="45.50" y1="382.50" x2="45.50" y2="494.50" stroke="#cbcbcb" stroke-width="1"/>
<text x="31.90" y="398.80" font-family='"Liberation Serif", serif' font-size="9.7" font-weight="bold" text-anchor="middle" fill="#000">1.585</text>
<text x="30.00" y="414.40" font-family='"Liberation Serif", serif' font-size="9.7" font-weight="bold" text-anchor="middle" fill="#000">1.468</text>
<text x="31.00" y="427.80" font-family='"Liberation Serif", serif' font-size="9.7" font-weight="bold" text-anchor="middle" fill="#000">1.351</text>
<text x="31.30" y="441.60" font-family='"Liberation Serif", serif' font-size="9.7" font-weight="bold" text-anchor="middle" fill="#000">1.234</text>
<text x="31.00" y="455.00" font-family='"Liberation Serif", serif' font-size="9.7" font-weight="bold" text-anchor="middle" fill="#000">1.117</text>
<text x="24.80" y="468.50" font-family='"Liberation Serif", serif' font-size="9.7" font-weight="bold" text-anchor="middle" fill="#000">1</text>
<text x="28.70" y="481.50" font-family='"Liberation Serif", serif' font-size="9.7" font-weight="bold" text-anchor="middle" fill="#000">0.883</text>
<text x="28.70" y="495.20" font-family='"Liberation Serif", serif' font-size="9.7" font-weight="bold" text-anchor="middle" fill="#000">0.766</text>
<text x="45.10" y="505.10" font-family='"Liberation Sans", sans-serif' font-size="6.1" font-weight="bold" text-anchor="middle" fill="#000">0</text>
<text x="69.78" y="505.10" font-family='"Liberation Sans", sans-serif' font-size="6.1" font-weight="bold" text-anchor="middle" fill="#000">0.02</text>
<line x1="69.78" y1="494.50" x2="69.78" y2="496.30" stroke="#cbcbcb" stroke-width="0.8"/>
<text x="94.46" y="505.10" font-family='"Liberation Sans", sans-serif' font-size="6.1" font-weight="bold" text-anchor="middle" fill="#000">0.04</text>
<line x1="94.46" y1="494.50" x2="94.46" y2="496.30" stroke="#cbcbcb" stroke-width="0.8"/>
<text x="119.14" y="505.10" font-family='"Liberation Sans", sans-serif' font-size="6.1" font-weight="bold" text-anchor="middle" fill="#000">0.06</text>
<line x1="119.14" y1="494.50" x2="119.14" y2="496.30" stroke="#cbcbcb" stroke-width="0.8"/>
<text x="143.82" y="505.10" font-family='"Liberation Sans", sans-serif' font-size="6.1" font-weight="bold" text-anchor="middle" fill="#000">0.08</text>
<line x1="143.82" y1="494.50" x2="143.82" y2="496.30" stroke="#cbcbcb" stroke-width="0.8"/>
<text x="168.50" y="505.10" font-family='"Liberation Sans", sans-serif' font-size="6.1" font-weight="bold" text-anchor="middle" fill="#000">0.1</text>
<line x1="168.50" y1="494.50" x2="168.50" y2="496.30" stroke="#cbcbcb" stroke-width="0.8"/>
<text x="193.18" y="505.10" font-family='"Liberation Sans", sans-serif' font-size="6.1" font-weight="bold" text-anchor="middle" fill="#000">0.12</text>
<line x1="193.18" y1="494.50" x2="193.18" y2="496.30" stroke="#cbcbcb" stroke-width="0.8"/>
<text x="217.86" y="505.10" font-family='"Liberation Sans", sans-serif' font-size="6.1" font-weight="bold" text-anchor="middle" fill="#000">0.14</text>
<line x1="217.86" y1="494.50" x2="217.86" y2="496.30" stroke="#cbcbcb" stroke-width="0.8"/>
<text x="242.54" y="505.10" font-family='"Liberation Sans", sans-serif' font-size="6.1" font-weight="bold" text-anchor="middle" fill="#000">0.16</text>
<line x1="242.54" y1="494.50" x2="242.54" y2="496.30" stroke="#cbcbcb" stroke-width="0.8"/>
<text x="47.90" y="377.20" font-family='"Liberation Sans", sans-serif' font-size="7.5" font-weight="bold" text-anchor="start" fill="#000" textLength="182.10" lengthAdjust="spacingAndGlyphs" xml:space="preserve" style="white-space:pre">Gate Delays  vs. Threshold Voltage Variation-LSEH-1</text>
<text x="67.30" y="518.40" font-family='"Liberation Sans", sans-serif' font-size="9.4" font-weight="bold" text-anchor="start" fill="#000" textLength="159.10" lengthAdjust="spacingAndGlyphs">Maximum Deviation from orginal Vth</text>
<text transform="translate(9.80,489.00) rotate(-90)" font-family='"Liberation Sans", sans-serif' font-size="9" font-weight="bold" textLength="104.50" lengthAdjust="spacingAndGlyphs">Gate Delays(normalized)</text>
<text x="128.00" y="545.40" font-family='"Liberation Serif", serif' font-size="11" font-weight="bold" text-anchor="middle" fill="#000">(e)</text>
<text x="55.30" y="392.70" font-family='"Liberation Serif", serif' font-size="10.6" fill="#222" stroke="#222" stroke-width="0.25" textLength="70.90" lengthAdjust="spacingAndGlyphs"><tspan font-style="italic">dev</tspan><tspan font-style="italic" font-size="8.27" dy="1.6">max</tspan><tspan dy="-1.6"> = 0.145</tspan></text>
<text x="61.70" y="405.50" font-family='"Liberation Serif", serif' font-size="10.6" fill="#222" stroke="#222" stroke-width="0.25" textLength="54.50" lengthAdjust="spacingAndGlyphs"><tspan font-style="italic">σ</tspan><tspan font-style="italic" font-size="8.27" dy="1.6">max</tspan><tspan dy="-1.6"> = 0.19</tspan></text>
<g fill="#c9050f" stroke="#6e1030" stroke-width="0.5">
<circle cx="69.78" cy="463.40" r="4.1"/>
<circle cx="69.78" cy="466.85" r="4.1"/>
<circle cx="69.78" cy="470.30" r="4.1"/>
<circle cx="94.46" cy="459.00" r="4.1"/>
<circle cx="94.46" cy="462.55" r="4.1"/>
<circle cx="94.46" cy="466.10" r="4.1"/>
<circle cx="94.46" cy="469.65" r="4.1"/>
<circle cx="94.46" cy="473.20" r="4.1"/>
<circle cx="119.14" cy="451.20" r="4.1"/>
<circle cx="119.14" cy="456.00" r="4.1"/>
<circle cx="119.14" cy="459.23" r="4.1"/>
<circle cx="119.14" cy="462.47" r="4.1"/>
<circle cx="119.14" cy="465.70" r="4.1"/>
<circle cx="119.14" cy="468.93" r="4.1"/>
<circle cx="119.14" cy="472.17" r="4.1"/>
<circle cx="119.14" cy="475.40" r="4.1"/>
<circle cx="143.82" cy="445.20" r="4.1"/>
<circle cx="143.82" cy="448.88" r="4.1"/>
<circle cx="143.82" cy="452.56" r="4.1"/>
<circle cx="143.82" cy="456.23" r="4.1"/>
<circle cx="143.82" cy="459.91" r="4.1"/>
<circle cx="143.82" cy="463.59" r="4.1"/>
<circle cx="143.82" cy="467.27" r="4.1"/>
<circle cx="143.82" cy="470.94" r="4.1"/>
<circle cx="143.82" cy="474.62" r="4.1"/>
<circle cx="143.82" cy="478.30" r="4.1"/>
<circle cx="168.50" cy="431.20" r="4.1"/>
<circle cx="168.50" cy="436.80" r="4.1"/>
<circle cx="168.50" cy="447.70" r="4.1"/>
<circle cx="168.50" cy="455.00" r="4.1"/>
<circle cx="168.50" cy="460.00" r="4.1"/>
<circle cx="168.50" cy="463.32" r="4.1"/>
<circle cx="168.50" cy="466.63" r="4.1"/>
<circle cx="168.50" cy="469.95" r="4.1"/>
<circle cx="168.50" cy="473.27" r="4.1"/>
<circle cx="168.50" cy="476.58" r="4.1"/>
<circle cx="168.50" cy="479.90" r="4.1"/>
<circle cx="193.18" cy="409.40" r="4.1"/>
<circle cx="193.18" cy="426.10" r="4.1"/>
<circle cx="193.18" cy="438.80" r="4.1"/>
<circle cx="193.18" cy="447.20" r="4.1"/>
<circle cx="193.18" cy="451.70" r="4.1"/>
<circle cx="193.18" cy="461.70" r="4.1"/>
<circle cx="193.18" cy="465.10" r="4.1"/>
<circle cx="193.18" cy="468.50" r="4.1"/>
<circle cx="193.18" cy="471.90" r="4.1"/>
<circle cx="193.18" cy="475.30" r="4.1"/>
<circle cx="193.18" cy="478.70" r="4.1"/>
<circle cx="193.18" cy="482.10" r="4.1"/>
<circle cx="217.86" cy="413.20" r="4.1"/>
<circle cx="217.86" cy="429.90" r="4.1"/>
<circle cx="217.86" cy="436.10" r="4.1"/>
<circle cx="217.86" cy="438.30" r="4.1"/>
<circle cx="217.86" cy="449.90" r="4.1"/>
<circle cx="217.86" cy="460.80" r="4.1"/>
<circle cx="217.86" cy="463.96" r="4.1"/>
<circle cx="217.86" cy="467.12" r="4.1"/>
<circle cx="217.86" cy="470.28" r="4.1"/>
<circle cx="217.86" cy="473.44" r="4.1"/>
<circle cx="217.86" cy="476.60" r="4.1"/>
<circle cx="217.86" cy="484.60" r="4.1"/>
<circle cx="242.54" cy="391.30" r="4.1"/>
<circle cx="242.54" cy="426.40" r="4.1"/>
<circle cx="242.54" cy="430.80" r="4.1"/>
<circle cx="242.54" cy="443.80" r="4.1"/>
<circle cx="242.54" cy="459.30" r="4.1"/>
<circle cx="242.54" cy="462.63" r="4.1"/>
<circle cx="242.54" cy="465.97" r="4.1"/>
<circle cx="242.54" cy="469.30" r="4.1"/>
<circle cx="242.54" cy="472.63" r="4.1"/>
<circle cx="242.54" cy="475.97" r="4.1"/>
<circle cx="242.54" cy="479.30" r="4.1"/>
<circle cx="242.54" cy="487.20" r="4.1"/>
</g>
<rect x="311.25" y="375.5" width="207.5" height="111.25" fill="none" stroke="#9aa7b4" stroke-width="0.8"/>
<line x1="311.25" y1="404.25" x2="518.75" y2="404.25" stroke="#a9b3bd" stroke-width="0.8"/>
<line x1="311.25" y1="445.5" x2="518.75" y2="445.5" stroke="#a9b3bd" stroke-width="0.8"/>
<polyline points="321.62,478.75 332.00,479.50 342.38,480.75 352.75,480.75 363.12,478.00 373.50,477.00 383.88,478.25 394.25,479.25 404.62,480.50 415.00,478.75 425.38,480.50 435.75,479.00 446.12,478.75 456.50,480.00 466.88,476.75 477.25,482.00 487.62,479.00 498.00,479.50 508.38,478.00 518.75,482.00" fill="none" stroke="#3d85d6" stroke-width="2.4" stroke-linejoin="round"/>
<path d="M318.52 478.75L321.62 475.65L324.73 478.75L321.62 481.85Z" fill="#3d85d6"/>
<path d="M328.90 479.50L332.00 476.40L335.10 479.50L332.00 482.60Z" fill="#3d85d6"/>
<path d="M339.27 480.75L342.38 477.65L345.48 480.75L342.38 483.85Z" fill="#3d85d6"/>
<path d="M349.65 480.75L352.75 477.65L355.85 480.75L352.75 483.85Z" fill="#3d85d6"/>
<path d="M360.02 478.00L363.12 474.90L366.23 478.00L363.12 481.10Z" fill="#3d85d6"/>
<path d="M370.40 477.00L373.50 473.90L376.60 477.00L373.50 480.10Z" fill="#3d85d6"/>
<path d="M380.77 478.25L383.88 475.15L386.98 478.25L383.88 481.35Z" fill="#3d85d6"/>
<path d="M391.15 479.25L394.25 476.15L397.35 479.25L394.25 482.35Z" fill="#3d85d6"/>
<path d="M401.52 480.50L404.62 477.40L407.73 480.50L404.62 483.60Z" fill="#3d85d6"/>
<path d="M411.90 478.75L415.00 475.65L418.10 478.75L415.00 481.85Z" fill="#3d85d6"/>
<path d="M422.27 480.50L425.38 477.40L428.48 480.50L425.38 483.60Z" fill="#3d85d6"/>
<path d="M432.65 479.00L435.75 475.90L438.85 479.00L435.75 482.10Z" fill="#3d85d6"/>
<path d="M443.02 478.75L446.12 475.65L449.23 478.75L446.12 481.85Z" fill="#3d85d6"/>
<path d="M453.40 480.00L456.50 476.90L459.60 480.00L456.50 483.10Z" fill="#3d85d6"/>
<path d="M463.77 476.75L466.88 473.65L469.98 476.75L466.88 479.85Z" fill="#3d85d6"/>
<path d="M474.15 482.00L477.25 478.90L480.35 482.00L477.25 485.10Z" fill="#3d85d6"/>
<path d="M484.52 479.00L487.62 475.90L490.73 479.00L487.62 482.10Z" fill="#3d85d6"/>
<path d="M494.90 479.50L498.00 476.40L501.10 479.50L498.00 482.60Z" fill="#3d85d6"/>
<path d="M505.27 478.00L508.38 474.90L511.48 478.00L508.38 481.10Z" fill="#3d85d6"/>
<path d="M515.65 482.00L518.75 478.90L521.85 482.00L518.75 485.10Z" fill="#3d85d6"/>
<rect x="319.82" y="460.45" width="3.6" height="3.6" fill="#c0434d"/>
<rect x="330.20" y="460.70" width="3.6" height="3.6" fill="#c0434d"/>
<rect x="340.57" y="461.95" width="3.6" height="3.6" fill="#c0434d"/>
<rect x="350.95" y="461.95" width="3.6" height="3.6" fill="#c0434d"/>
<rect x="361.32" y="459.45" width="3.6" height="3.6" fill="#c0434d"/>
<rect x="371.70" y="458.70" width="3.6" height="3.6" fill="#c0434d"/>
<rect x="382.07" y="459.20" width="3.6" height="3.6" fill="#c0434d"/>
<rect x="392.45" y="460.20" width="3.6" height="3.6" fill="#c0434d"/>
<rect x="402.82" y="461.95" width="3.6" height="3.6" fill="#c0434d"/>
<rect x="413.20" y="460.45" width="3.6" height="3.6" fill="#c0434d"/>
<rect x="423.57" y="461.95" width="3.6" height="3.6" fill="#c0434d"/>
<rect x="433.95" y="460.45" width="3.6" height="3.6" fill="#c0434d"/>
<rect x="444.32" y="460.20" width="3.6" height="3.6" fill="#c0434d"/>
<rect x="454.70" y="461.45" width="3.6" height="3.6" fill="#c0434d"/>
<rect x="465.07" y="458.20" width="3.6" height="3.6" fill="#c0434d"/>
<rect x="475.45" y="463.45" width="3.6" height="3.6" fill="#c0434d"/>
<rect x="485.82" y="460.45" width="3.6" height="3.6" fill="#c0434d"/>
<rect x="496.20" y="460.70" width="3.6" height="3.6" fill="#c0434d"/>
<rect x="506.57" y="459.45" width="3.6" height="3.6" fill="#c0434d"/>
<rect x="516.95" y="463.45" width="3.6" height="3.6" fill="#c0434d"/>
<path d="M319.73 448.71L321.62 445.10L323.52 448.71Z" fill="#8cb63c"/>
<path d="M330.10 449.21L332.00 445.60L333.90 449.21Z" fill="#8cb63c"/>
<path d="M340.48 450.71L342.38 447.10L344.27 450.71Z" fill="#8cb63c"/>
<path d="M350.85 450.71L352.75 447.10L354.65 450.71Z" fill="#8cb63c"/>
<path d="M361.23 447.46L363.12 443.85L365.02 447.46Z" fill="#8cb63c"/>
<path d="M371.60 446.71L373.50 443.10L375.40 446.71Z" fill="#8cb63c"/>
<path d="M381.98 447.71L383.88 444.10L385.77 447.71Z" fill="#8cb63c"/>
<path d="M392.35 448.71L394.25 445.10L396.15 448.71Z" fill="#8cb63c"/>
<path d="M402.73 450.21L404.62 446.60L406.52 450.21Z" fill="#8cb63c"/>
<path d="M413.10 448.71L415.00 445.10L416.90 448.71Z" fill="#8cb63c"/>
<path d="M423.48 450.21L425.38 446.60L427.27 450.21Z" fill="#8cb63c"/>
<path d="M433.85 448.71L435.75 445.10L437.65 448.71Z" fill="#8cb63c"/>
<path d="M444.23 448.71L446.12 445.10L448.02 448.71Z" fill="#8cb63c"/>
<path d="M454.60 449.96L456.50 446.35L458.40 449.96Z" fill="#8cb63c"/>
<path d="M464.98 446.21L466.88 442.60L468.77 446.21Z" fill="#8cb63c"/>
<path d="M475.35 452.46L477.25 448.85L479.15 452.46Z" fill="#8cb63c"/>
<path d="M485.73 448.96L487.62 445.35L489.52 448.96Z" fill="#8cb63c"/>
<path d="M496.10 449.46L498.00 445.85L499.90 449.46Z" fill="#8cb63c"/>
<path d="M506.48 447.71L508.38 444.10L510.27 447.71Z" fill="#8cb63c"/>
<path d="M516.85 452.71L518.75 449.10L520.65 452.71Z" fill="#8cb63c"/>
<circle cx="321.62" cy="400.00" r="1.8" fill="#4416b8"/>
<circle cx="332.00" cy="411.75" r="1.8" fill="#4416b8"/>
<circle cx="342.38" cy="421.25" r="1.8" fill="#4416b8"/>
<circle cx="352.75" cy="421.75" r="1.8" fill="#4416b8"/>
<circle cx="394.25" cy="406.25" r="1.8" fill="#4416b8"/>
<circle cx="404.62" cy="420.00" r="1.8" fill="#4416b8"/>
<circle cx="415.00" cy="403.00" r="1.8" fill="#4416b8"/>
<circle cx="425.38" cy="417.00" r="1.8" fill="#4416b8"/>
<circle cx="435.75" cy="410.00" r="1.8" fill="#4416b8"/>
<circle cx="446.12" cy="396.75" r="1.8" fill="#4416b8"/>
<circle cx="456.50" cy="416.00" r="1.8" fill="#4416b8"/>
<circle cx="477.25" cy="427.75" r="1.8" fill="#4416b8"/>
<circle cx="487.62" cy="409.00" r="1.8" fill="#4416b8"/>
<circle cx="498.00" cy="413.75" r="1.8" fill="#4416b8"/>
<circle cx="518.75" cy="427.25" r="1.8" fill="#4416b8"/>
<path d="M319.73 421.25L321.62 419.35L323.52 421.25L321.62 423.15Z" fill="#f07a0c"/>
<path d="M330.10 418.75L332.00 416.85L333.90 418.75L332.00 420.65Z" fill="#f07a0c"/>
<path d="M340.48 414.50L342.38 412.60L344.27 414.50L342.38 416.40Z" fill="#f07a0c"/>
<path d="M350.85 410.75L352.75 408.85L354.65 410.75L352.75 412.65Z" fill="#f07a0c"/>
<path d="M361.23 420.75L363.12 418.85L365.02 420.75L363.12 422.65Z" fill="#f07a0c"/>
<path d="M371.60 419.50L373.50 417.60L375.40 419.50L373.50 421.40Z" fill="#f07a0c"/>
<path d="M381.98 418.50L383.88 416.60L385.77 418.50L383.88 420.40Z" fill="#f07a0c"/>
<path d="M392.35 419.50L394.25 417.60L396.15 419.50L394.25 421.40Z" fill="#f07a0c"/>
<path d="M402.73 415.00L404.62 413.10L406.52 415.00L404.62 416.90Z" fill="#f07a0c"/>
<path d="M413.10 419.25L415.00 417.35L416.90 419.25L415.00 421.15Z" fill="#f07a0c"/>
<path d="M423.48 422.75L425.38 420.85L427.27 422.75L425.38 424.65Z" fill="#f07a0c"/>
<path d="M433.85 416.50L435.75 414.60L437.65 416.50L435.75 418.40Z" fill="#f07a0c"/>
<path d="M444.23 421.25L446.12 419.35L448.02 421.25L446.12 423.15Z" fill="#f07a0c"/>
<path d="M454.60 420.25L456.50 418.35L458.40 420.25L456.50 422.15Z" fill="#f07a0c"/>
<path d="M464.98 419.50L466.88 417.60L468.77 419.50L466.88 421.40Z" fill="#f07a0c"/>
<path d="M475.35 414.50L477.25 412.60L479.15 414.50L477.25 416.40Z" fill="#f07a0c"/>
<path d="M485.73 418.50L487.62 416.60L489.52 418.50L487.62 420.40Z" fill="#f07a0c"/>
<path d="M496.10 418.50L498.00 416.60L499.90 418.50L498.00 420.40Z" fill="#f07a0c"/>
<path d="M506.48 420.50L508.38 418.60L510.27 420.50L508.38 422.40Z" fill="#f07a0c"/>
<text x="305.50" y="407.25" font-family='"Liberation Sans", sans-serif' font-size="8" font-weight="bold" text-anchor="end" fill="#000">2000</text>
<text x="305.50" y="448.50" font-family='"Liberation Sans", sans-serif' font-size="8" font-weight="bold" text-anchor="end" fill="#000">200</text>
<text x="305.50" y="489.75" font-family='"Liberation Sans", sans-serif' font-size="8" font-weight="bold" text-anchor="end" fill="#000">20</text>
<text x="311.25" y="500.80" font-family='"Liberation Sans", sans-serif' font-size="8.2" font-weight="bold" text-anchor="middle" fill="#000">0</text>
<text x="363.12" y="500.80" font-family='"Liberation Sans", sans-serif' font-size="8.2" font-weight="bold" text-anchor="middle" fill="#000">5</text>
<text x="415.00" y="500.80" font-family='"Liberation Sans", sans-serif' font-size="8.2" font-weight="bold" text-anchor="middle" fill="#000">10</text>
<text x="466.88" y="500.80" font-family='"Liberation Sans", sans-serif' font-size="8.2" font-weight="bold" text-anchor="middle" fill="#000">15</text>
<text x="518.75" y="500.80" font-family='"Liberation Sans", sans-serif' font-size="8.2" font-weight="bold" text-anchor="middle" fill="#000">20</text>
<text x="351.90" y="369.00" font-family='"Liberation Sans", sans-serif' font-size="9.6" font-weight="bold" text-anchor="start" fill="#000" textLength="114.80" lengthAdjust="spacingAndGlyphs">Delay vs. (Vth) variation</text>
<text x="342.30" y="515.80" font-family='"Liberation Sans", sans-serif' font-size="9.9" font-weight="bold" text-anchor="start" fill="#000" textLength="120.50" lengthAdjust="spacingAndGlyphs">Number of simulation</text>
<text transform="translate(280.3,481.5) rotate(-90)" font-family='"Liberation Sans", sans-serif' font-size="8.6" font-weight="bold" textLength="101.5" lengthAdjust="spacingAndGlyphs">logarithmic(Delay(ps))</text>
<text x="398.60" y="546.00" font-family='"Liberation Serif", serif' font-size="11" font-weight="bold" text-anchor="middle" fill="#000">(f)</text>
<line x1="289.5" y1="526" x2="302" y2="526" stroke="#3d85d6" stroke-width="2"/>
<path d="M293.8 526L295.8 524L297.8 526L295.8 528Z" fill="#3d85d6"/>
<text x="302.50" y="528.30" font-family='"Liberation Sans", sans-serif' font-size="6.7" font-weight="normal" text-anchor="start" fill="#222" textLength="54.50" lengthAdjust="spacingAndGlyphs">Proposed-Dlatch</text>
<rect x="369.2" y="524.4" width="3.2" height="3.2" fill="#c0434d"/>
<text x="378.00" y="528.30" font-family='"Liberation Sans", sans-serif' font-size="6.7" font-weight="normal" text-anchor="start" fill="#222" textLength="17.00" lengthAdjust="spacingAndGlyphs">Static</text>
<path d="M407.6 527.5L409.3 524.1L411 527.5Z" fill="#8cb63c"/>
<text x="416.50" y="528.30" font-family='"Liberation Sans", sans-serif' font-size="6.7" font-weight="normal" text-anchor="start" fill="#222" textLength="23.00" lengthAdjust="spacingAndGlyphs">TPDICE</text>
<circle cx="453" cy="526" r="1.6" fill="#4416b8"/>
<text x="460.50" y="528.30" font-family='"Liberation Sans", sans-serif' font-size="6.7" font-weight="normal" text-anchor="start" fill="#222" textLength="14.50" lengthAdjust="spacingAndGlyphs">DICE</text>
<path d="M487 526L488.7 524.3L490.4 526L488.7 527.7Z" fill="#f07a0c"/>
<text x="496.00" y="528.30" font-family='"Liberation Sans", sans-serif' font-size="6.7" font-weight="normal" text-anchor="start" fill="#222" textLength="22.50" lengthAdjust="spacingAndGlyphs">LSEH-1</text>
</svg>
</body></html>
